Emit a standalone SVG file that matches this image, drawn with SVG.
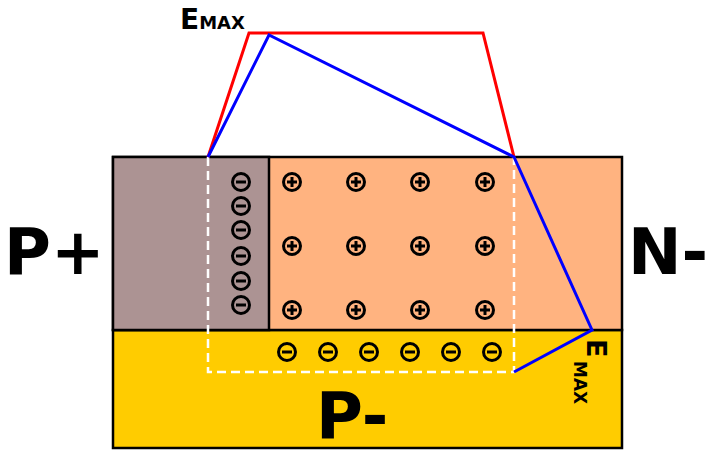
<svg xmlns="http://www.w3.org/2000/svg" width="720" height="463" viewBox="0 0 720 463">
<style>
.t{font-family:"DejaVu Sans","Liberation Sans",sans-serif;font-weight:bold;fill:#000}
.c{fill:none;stroke:#000;stroke-width:3}
</style>
<defs>
<g id="minus"><circle class="c" r="8.5"/><path class="c" d="M-5 0H5"/></g>
<g id="plus"><circle class="c" r="8.5"/><path class="c" d="M-5 0H5M0 -5V5"/></g>
</defs>
<g id="pminus"><rect x="113" y="330" width="509" height="118" fill="#ffcc00" stroke="#000" stroke-width="2.5"/></g>
<g id="nminus"><rect x="113" y="157" width="509" height="173" fill="#ffb380" stroke="#000" stroke-width="2.5"/></g>
<g id="pplus"><rect x="113" y="157" width="156" height="173" fill="#ac9393" stroke="#000" stroke-width="2.5"/></g>
<g id="charges">
<use href="#minus" x="241" y="182"/><use href="#minus" x="241" y="206"/><use href="#minus" x="241" y="230"/><use href="#minus" x="241" y="256"/><use href="#minus" x="241" y="281"/><use href="#minus" x="241" y="305"/>
<use href="#plus" x="292" y="182"/><use href="#plus" x="356" y="182"/><use href="#plus" x="420" y="182"/><use href="#plus" x="485" y="182"/>
<use href="#plus" x="292" y="246"/><use href="#plus" x="356" y="246"/><use href="#plus" x="420" y="246"/><use href="#plus" x="485" y="246"/>
<use href="#plus" x="292" y="310"/><use href="#plus" x="356" y="310"/><use href="#plus" x="420" y="310"/><use href="#plus" x="485" y="310"/>
<use href="#minus" x="287" y="352"/><use href="#minus" x="328" y="352"/><use href="#minus" x="369" y="352"/><use href="#minus" x="410" y="352"/><use href="#minus" x="451" y="352"/><use href="#minus" x="492" y="352"/>
</g>
<g id="connectors" fill="none" stroke-width="3">
<path d="M208 157V372H514V157" stroke="#fff" stroke-width="2.5" stroke-dasharray="9,5"/>
<path d="M208 157L249 33H483L514 157" stroke="#ff0000"/>
<path d="M208 157L269 35L514 157L592 330L514 372" stroke="#0000ff"/>
</g>
<g id="labels">
<text class="t" x="4" y="274" font-size="64">P+</text>
<text class="t" x="628" y="274" font-size="64">N-</text>
<text class="t" x="316" y="438" font-size="64">P-</text>
<text class="t" x="180" y="29" font-size="28">E<tspan font-size="18">MAX</tspan></text>
<text class="t" transform="translate(587 339) rotate(90)" font-size="27">E</text>
<text class="t" transform="translate(574 361) rotate(90)" font-size="17">MAX</text>
</g>
</svg>
